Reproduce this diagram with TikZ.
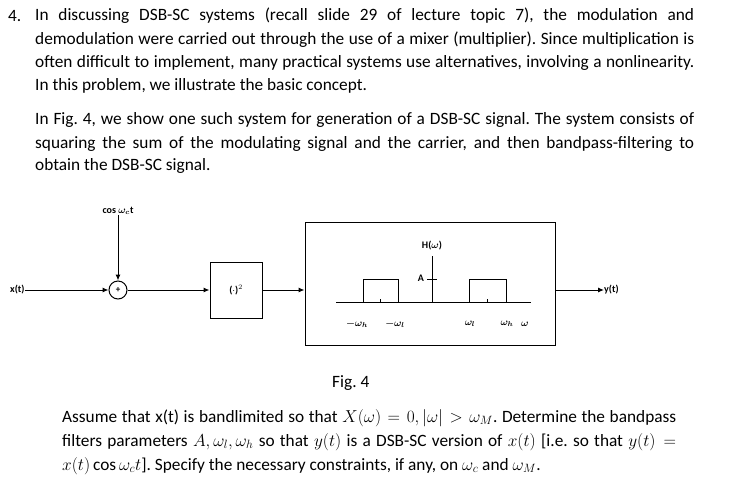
\documentclass[tikz,border=0pt]{standalone}
\usepackage{amsmath,amsbsy}
\usepackage{fontspec}
\setmainfont{Carlito}
\usetikzlibrary{arrows.meta}
\newcommand{\jline}[2]{\hbox to #1{#2}}
\begin{document}
\frenchspacing
\begin{tikzpicture}[x=1pt,y=-1pt,
  txt/.style={anchor=west,inner sep=0pt,font=\fontsize{17.3}{20}\selectfont},
  sm/.style={inner sep=0pt,font=\fontsize{10}{12}\selectfont\bfseries},
  blk/.style={draw,line width=1pt},
  sig/.style={line width=1pt,-{Latex[length=6pt,width=5pt]}},
  ln/.style={line width=1pt}]
\useasboundingbox (0,0) rectangle (732,491);
\node[txt] (n4) at (8,16) {4.};
\node[txt] (l1) at (35,16) {\jline{659pt}{In discussing DSB-SC systems (recall slide 29 of lecture topic 7), the modulation and}};
\node[txt] (l2) at (35,40) {\jline{659pt}{demodulation were carried out through the use of a mixer (multiplier). Since multiplication is}};
\node[txt] (l3) at (35,63) {\jline{659pt}{often difficult to implement, many practical systems use alternatives, involving a nonlinearity.}};
\node[txt] (l4) at (35,86) {In this problem, we illustrate the basic concept.};
\node[txt] (p1) at (35,120) {\jline{659pt}{In Fig. 4, we show one such system for generation of a DSB-SC signal. The system consists of}};
\node[txt] (p2) at (35,144) {\jline{659pt}{squaring the sum of the modulating signal and the carrier, and then bandpass-filtering to}};
\node[txt] (p3) at (35,166) {obtain the DSB-SC signal.};
% diagram
\node[sm] (cos) at (118,211) {cos $\boldsymbol{\omega_c}$t};
\node[sm,anchor=west] (x) at (10,290) {x(t)};
\node[draw,circle,line width=1pt,minimum size=18pt,inner sep=0pt,font=\fontsize{9}{9}\selectfont\bfseries] (add) at (118,290) {+};
\node[blk,minimum width=52pt,minimum height=56pt,font=\fontsize{10}{10}\selectfont\bfseries] (sq) at (236,290) {($\cdot$)$^2$};
\node[blk,minimum width=250pt,minimum height=123pt] (bp) at (430,283.5) {};
\node[sm,anchor=west] (y) at (604,290) {y(t)};
\draw[sig] (x.east) -- (add.west);
\draw[sig] (cos.south) -- (add.north);
\draw[sig] (add.east) -- (sq.west);
\draw[sig] (sq.east) -- (sq.east -| bp.west);
\draw[sig] (y.west -| bp.east) -- (y.west);
% spectrum
\coordinate (bl) at (336,302);
\coordinate (br) at (531,302);
\coordinate (at) at (432,256);
\coordinate (ab) at (432,302);
\draw[ln] (bl) -- (br);
\draw[ln] (at) -- (ab);
\draw[ln] (363,302) -- (363,279) -- (398,279) -- (398,302);
\draw[ln] (469,302) -- (469,279) -- (506,279) -- (506,302);
\draw[ln] (427,279) -- (437,279);
\draw (380,302) -- (380,299);
\draw (487,302) -- (487,299);
\node[sm] (H) at (432,246) {H($\boldsymbol{\omega}$)};
\node[sm] (A) at (421,278) {A};
\node[sm] (a1) at (357,324) {$\boldsymbol{-\omega_h}$};
\node[sm] (a2) at (395,324) {$\boldsymbol{-\omega_l}$};
\node[sm] (a3) at (470,324) {$\boldsymbol{\omega_l}$};
\node[sm] (a4) at (507,324) {$\boldsymbol{\omega_h}$};
\node[sm] (a5) at (525,324) {$\boldsymbol{\omega}$};
\node[txt] (fig) at (332,383) {Fig. 4};
\node[txt] (q1) at (62,418) {\jline{614pt}{Assume that x(t) is bandlimited so that $X(\omega)=0, |\omega|>\omega_M$. Determine the bandpass}};
\node[txt] (q2) at (62,442) {\jline{614pt}{filters parameters $A,\omega_l,\omega_h$ so that $y(t)$ is a DSB-SC version of $x(t)$ [i.e. so that $y(t)=$}};
\node[txt] (q3) at (62,466) {$x(t)\cos\omega_c t$]. Specify the necessary constraints, if any, on $\omega_c$ and $\omega_M$.};
\end{tikzpicture}
\end{document}
